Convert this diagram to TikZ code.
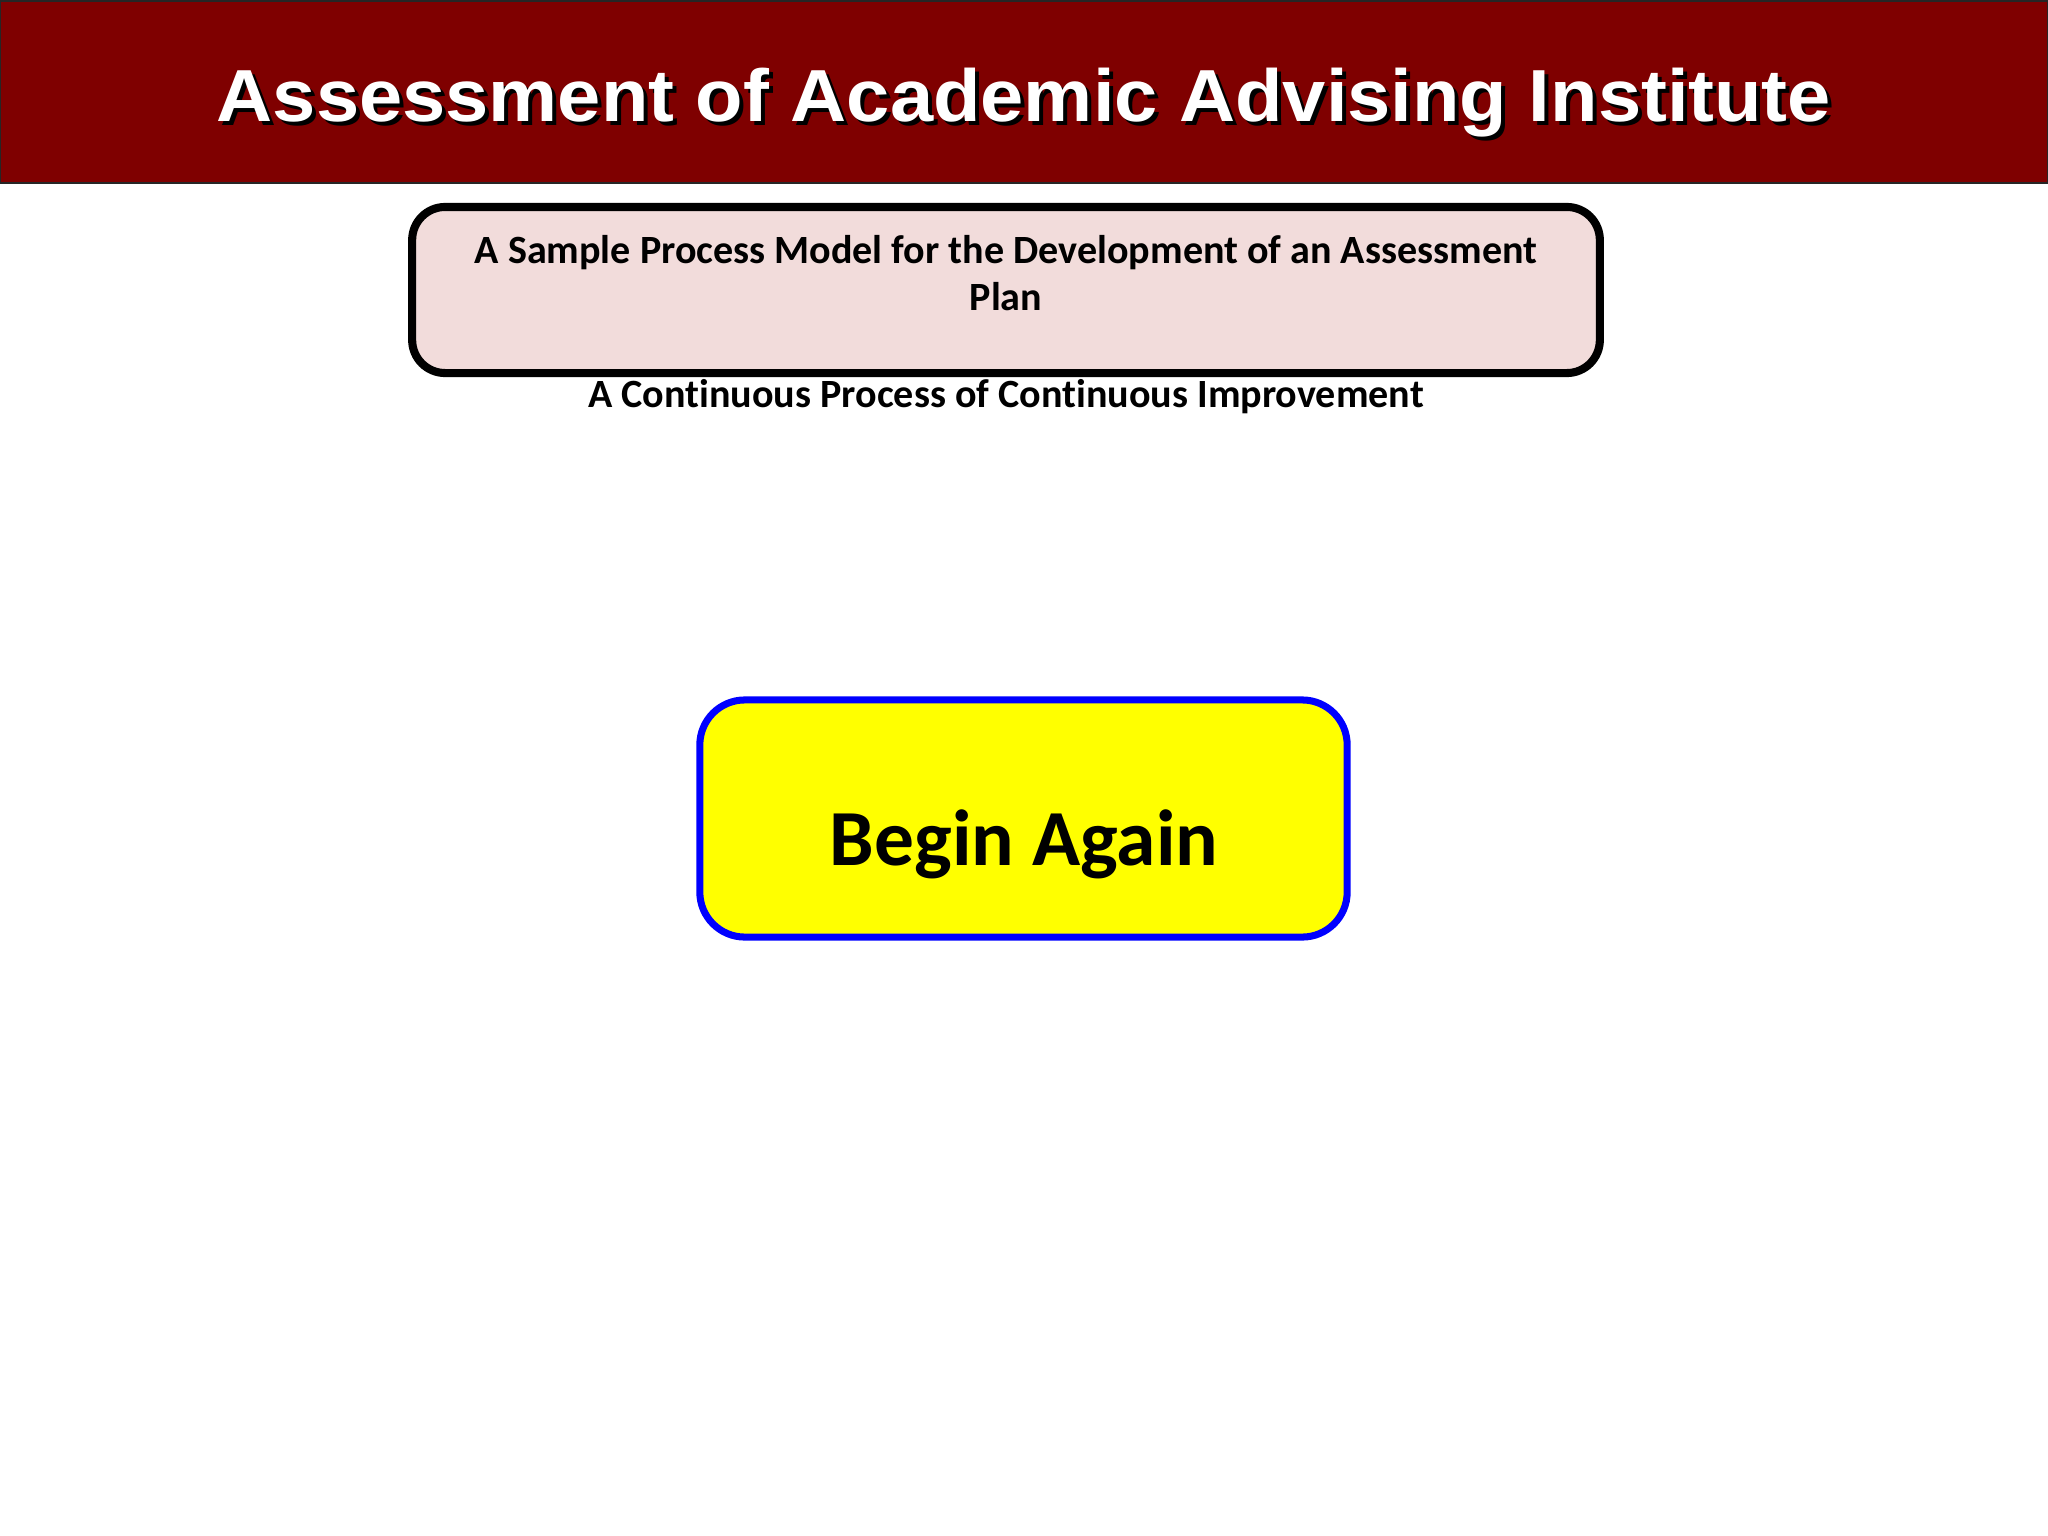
\documentclass[tikz,border=0pt]{standalone}
\usepackage{fontspec}
\setmainfont{Carlito}[Ligatures=NoCommon]
\newfontfamily\headfont{Liberation Sans}
\usepackage{graphicx}
\usetikzlibrary{positioning}

\tikzset{
  banner/.style={fill=bannerred, draw=black!85, line width=0.6pt,
    minimum width=20.46cm, minimum height=1.82cm, inner sep=0pt},
  headline/.style={anchor=base, inner sep=0pt},
  planbox/.style={rounded corners=0.33cm, fill=planpink, draw=black,
    line width=2.3pt, minimum width=11.87cm, minimum height=1.66cm},
  plantext/.style={font=\bfseries\fontsize{11.4}{13.4}\selectfont,
    align=center, inner sep=0pt},
  againbox/.style={rounded corners=0.45cm, fill=againyellow, draw=blue,
    line width=2pt, minimum width=6.47cm, minimum height=2.37cm},
  againtext/.style={font=\bfseries\fontsize{22.6}{27}\selectfont,
    anchor=base, inner sep=0pt}
}

\begin{document}
\begin{tikzpicture}[x=0.01cm,y=-0.01cm]
\definecolor{bannerred}{HTML}{7F0000}
\definecolor{planpink}{HTML}{F2DCDB}
\definecolor{againyellow}{HTML}{FFFF00}
\useasboundingbox[fill=white] (0,0) rectangle (2048,1536);

% header bar with shadowed title
\node[banner] (banner) at (1024,92) {};
\node[headline, text=black] (title-shadow) at (1028,125)
  {\resizebox{459pt}{15.2pt}{\headfont\bfseries Assessment of Academic Advising Institute}};
\node[headline, text=white] (title) at (1024,121)
  {\resizebox{459pt}{15.2pt}{\headfont\bfseries Assessment of Academic Advising Institute}};

% plan box
\node[planbox] (plan) at (1006,290) {};
\node[plantext, anchor=north, below=0.32cm of plan.north] (plan-text)
  {A Sample Process Model for the Development of an Assessment\\Plan};
\node[plantext, anchor=base] (cycle) at (1006,407)
  {A Continuous Process of Continuous Improvement};

% begin again
\node[againbox] (again) at (1023.5,818.5) {};
\node[againtext] (again-text) at (1024,865) {Begin Again};
\end{tikzpicture}
\end{document}
